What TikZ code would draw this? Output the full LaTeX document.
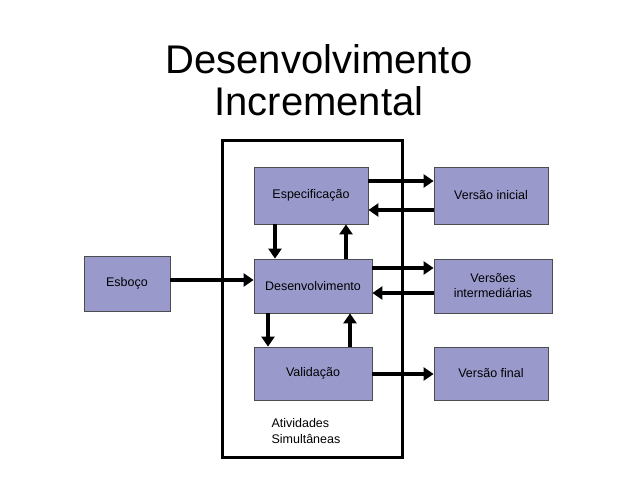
\documentclass[tikz,border=0pt]{standalone}
\usepackage{fontspec}
\setmainfont{Liberation Sans}
\usetikzlibrary{arrows.meta}
\definecolor{boxc}{HTML}{9999CC}
\begin{document}
\begin{tikzpicture}[x=1pt,y=-1pt,
  bx/.style={draw=black!70,fill=boxc,line width=0.8pt,inner sep=0pt,font=\fontsize{12.5}{15}\selectfont,align=center},
  ar/.style={line width=3.5pt,-{Triangle[length=10pt,width=13pt]}}]
\useasboundingbox (0,0) rectangle (638,479);
\node[font=\fontsize{40}{42}\selectfont,align=center] (t) at (319,80) {Desenvolvimento\\Incremental};
\node[draw,line width=3pt,minimum width=180pt,minimum height=317pt,inner sep=0pt] (frame) at (312,298.5) {};
\node[bx,minimum width=114pt,minimum height=57pt] (esp) at (311,195.5) {Especificação};
\node[bx,minimum width=114pt,minimum height=57pt] (vi) at (491,195.5) {Versão inicial};
\node[bx,minimum width=118pt,minimum height=54pt] (des) at (313,286) {Desenvolvimento};
\node[bx,minimum width=118pt,minimum height=54pt] (vint) at (493,286) {Versões\\intermediárias};
\node[bx,minimum width=118pt,minimum height=53pt] (val) at (313,373.5) {Validação};
\node[bx,minimum width=114pt,minimum height=53pt] (vf) at (491,373.5) {Versão final};
\node[bx,minimum width=86pt,minimum height=55pt] (esb) at (127,283.5) {Esboço};
\node[align=left,anchor=north west,font=\fontsize{12.5}{16}\selectfont] (at) at (268,415) {Atividades\\Simultâneas};
\draw[ar] (esp.east|-0,181) -- (vi.west|-0,181);
\draw[ar] (vi.west|-0,210) -- (esp.east|-0,210);
\draw[ar] (des.east|-0,268) -- (vint.west|-0,268);
\draw[ar] (vint.west|-0,293) -- (des.east|-0,293);
\draw[ar] (val.east|-0,374) -- (vf.west|-0,374);
\draw[ar] (esb.east|-0,280) -- (des.west|-0,280);
\draw[ar] (275,0|-esp.south) -- (275,0|-des.north);
\draw[ar] (346,0|-des.north) -- (346,0|-esp.south);
\draw[ar] (268,0|-des.south) -- (268,0|-val.north);
\draw[ar] (350,0|-val.north) -- (350,0|-des.south);
\end{tikzpicture}
\end{document}
